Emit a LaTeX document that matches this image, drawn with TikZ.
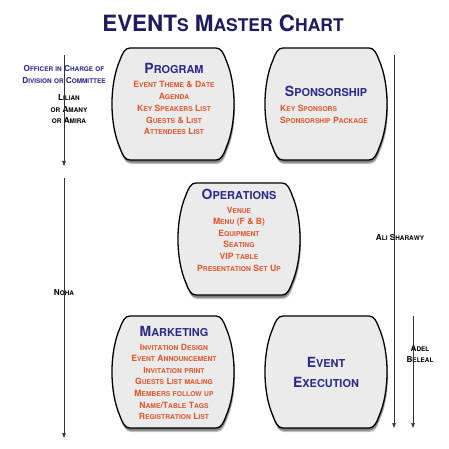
\documentclass[tikz,border=0pt]{standalone}
\usepackage{fontspec}
\usepackage{graphicx}
\setmainfont{TeX Gyre Heros}
\usetikzlibrary{arrows.meta}
\definecolor{navy}{HTML}{2C2A88}
\definecolor{titlenavy}{HTML}{1E1C5E}
\definecolor{itemor}{HTML}{E2572E}
\definecolor{boxfill}{HTML}{EBEBEB}
\definecolor{linegray}{HTML}{333333}
\makeatletter
\def\fsc@stop{\fsc@stop}
\def\fsc#1{\fsc@words#1 \@nil}
\def\fsc@words#1 #2\@nil{\fsc@chars#1\fsc@stop\ifx\relax#2\relax\else\ \fsc@words#2\@nil\fi}
\def\fsc@chars#1{\ifx#1\fsc@stop\else\fsc@one#1\expandafter\fsc@chars\fi}
\def\fsc@one#1{\ifnum\uccode`#1>0 \ifnum\uccode`#1=`#1 #1\else\scalebox{0.78}{\uppercase{#1}}\fi\else#1\fi}
\newcommand\fscx[1]{\expandafter\fsc\expandafter{#1}}
\makeatother
\newcommand\barrelpath[4]{({#1-#3+18},{#2-#4}) -- ({#1+#3-18},{#2-#4})
 .. controls ({#1+#3-13},{#2-#4}) and ({#1+#3-10.5},{#2-#4+5}) .. ({#1+#3-8},{#2-#4+12})
 .. controls ({#1+#3+2.7},{#2-20}) and ({#1+#3+2.7},{#2+20}) .. ({#1+#3-8},{#2+#4-12})
 .. controls ({#1+#3-10.5},{#2+#4-5}) and ({#1+#3-13},{#2+#4}) .. ({#1+#3-18},{#2+#4})
 -- ({#1-#3+18},{#2+#4})
 .. controls ({#1-#3+13},{#2+#4}) and ({#1-#3+10.5},{#2+#4-5}) .. ({#1-#3+8},{#2+#4-12})
 .. controls ({#1-#3-2.7},{#2+20}) and ({#1-#3-2.7},{#2-20}) .. ({#1-#3+8},{#2-#4+12})
 .. controls ({#1-#3+10.5},{#2-#4+5}) and ({#1-#3+13},{#2-#4}) .. cycle}
\newcommand\barrel[4]{%
 \fill[black,opacity=0.25] \barrelpath{#1+1}{#2+4}{#3}{#4};
 \fill[black,opacity=0.35] \barrelpath{#1+0.5}{#2+2.5}{#3}{#4};
 \draw[boxline] \barrelpath{#1}{#2}{#3}{#4};}
\begin{document}
\begin{tikzpicture}[x=1pt,y=-1pt,
  boxline/.style={fill=boxfill,draw=black,line width=1.3pt},
  head/.style={inner sep=0pt,anchor=base,text=navy,font=\fontsize{14}{14}\selectfont\bfseries},
  item/.style={inner sep=0pt,anchor=base,text=itemor,font=\fontsize{8.6}{8.6}\selectfont\bfseries},
  lbl/.style={inner sep=0pt,anchor=base,font=\fontsize{8.2}{8.2}\selectfont\bfseries},
  arr/.style={draw=linegray,line width=0.6pt,-{Triangle[length=5pt,width=3.5pt]}}]
\useasboundingbox (0,0) rectangle (449,449);
\fill[white] (0,0) rectangle (449,449);
% title
\node[inner sep=0pt,anchor=base,text=titlenavy,font=\fontsize{22.4}{22.4}\selectfont\bfseries] (title) at (223,32) {\fsc{EVENTs Master Chart}};
% boxes
\barrel{173}{104}{61}{56}
\barrel{326}{104}{61}{56}
\barrel{239}{239}{61}{56}
\barrel{173}{372}{61}{56}
\barrel{326}{372}{61}{56}
% Program
\node[head] (prog) at (174,74) {\fsc{Program}};
\foreach \t [count=\i] in {Event Theme \& Date,Agenda,Key Speakers List,Guests \& List,Attendees List}
  \node[item] (prog-\i) at (174,{88+(\i-1)*11.7}) {\fscx{\t}};
% Sponsorship
\node[head] (spon) at (326,97) {\fsc{Sponsorship}};
\node[item,anchor=base west] (spon-1) at (280,111.5) {\fsc{Key Sponsors}};
\node[item,anchor=base west] (spon-2) at (280,123.2) {\fsc{Sponsorship Package}};
% Operations
\node[head] (ops) at (239,199) {\fsc{Operations}};
\foreach \t [count=\i] in {Venue,Menu (F \& B),Equipment,Seating,VIP table,Presentation Set Up}
  \node[item] (ops-\i) at (239,{213+(\i-1)*11.6}) {\fscx{\t}};
% Marketing
\node[head] (mkt) at (174,336) {\fsc{Marketing}};
\foreach \t [count=\i] in {Invitation Design,Event Announcement,Invitation print,Guests List mailing,Members follow up,Name/Table Tags,Registration List}
  \node[item] (mkt-\i) at (174,{350+(\i-1)*11.6}) {\fscx{\t}};
% Event Execution
\node[head] (exe1) at (326,367) {\fsc{Event}};
\node[head] (exe2) at (326,387) {\fsc{Execution}};
% side labels
\node[lbl,text=navy] (off1) at (64,72) {\fsc{Officer in Charge of}};
\node[lbl,text=navy] (off2) at (64,84) {\fsc{Division or Committee}};
\node[lbl] (lil1) at (69,101) {\fsc{Lilian}};
\node[lbl] (lil2) at (69,113) {\fsc{or Amany}};
\node[lbl] (lil3) at (69,124) {\fsc{or Amira}};
\node[lbl] (noha) at (64,295) {\fsc{Noha}};
\node[lbl] (ali) at (400,240) {\fsc{Ali Sharawy}};
\node[lbl] (adel1) at (420,351) {\fsc{Adel}};
\node[lbl] (adel2) at (420,362) {\fsc{Beleal}};
% arrows
\coordinate (a1s) at (64,55); \coordinate (a1e) at (64,166);
\coordinate (a2s) at (64,178); \coordinate (a2e) at (64,438);
\coordinate (a3s) at (394,55); \coordinate (a3e) at (394,428);
\coordinate (a4s) at (413,316); \coordinate (a4e) at (413,428);
\draw[arr] (a1s) -- (a1e);
\draw[arr] (a2s) -- (a2e);
\draw[arr] (a3s) -- (a3e);
\draw[arr] (a4s) -- (a4e);
\end{tikzpicture}
\end{document}
